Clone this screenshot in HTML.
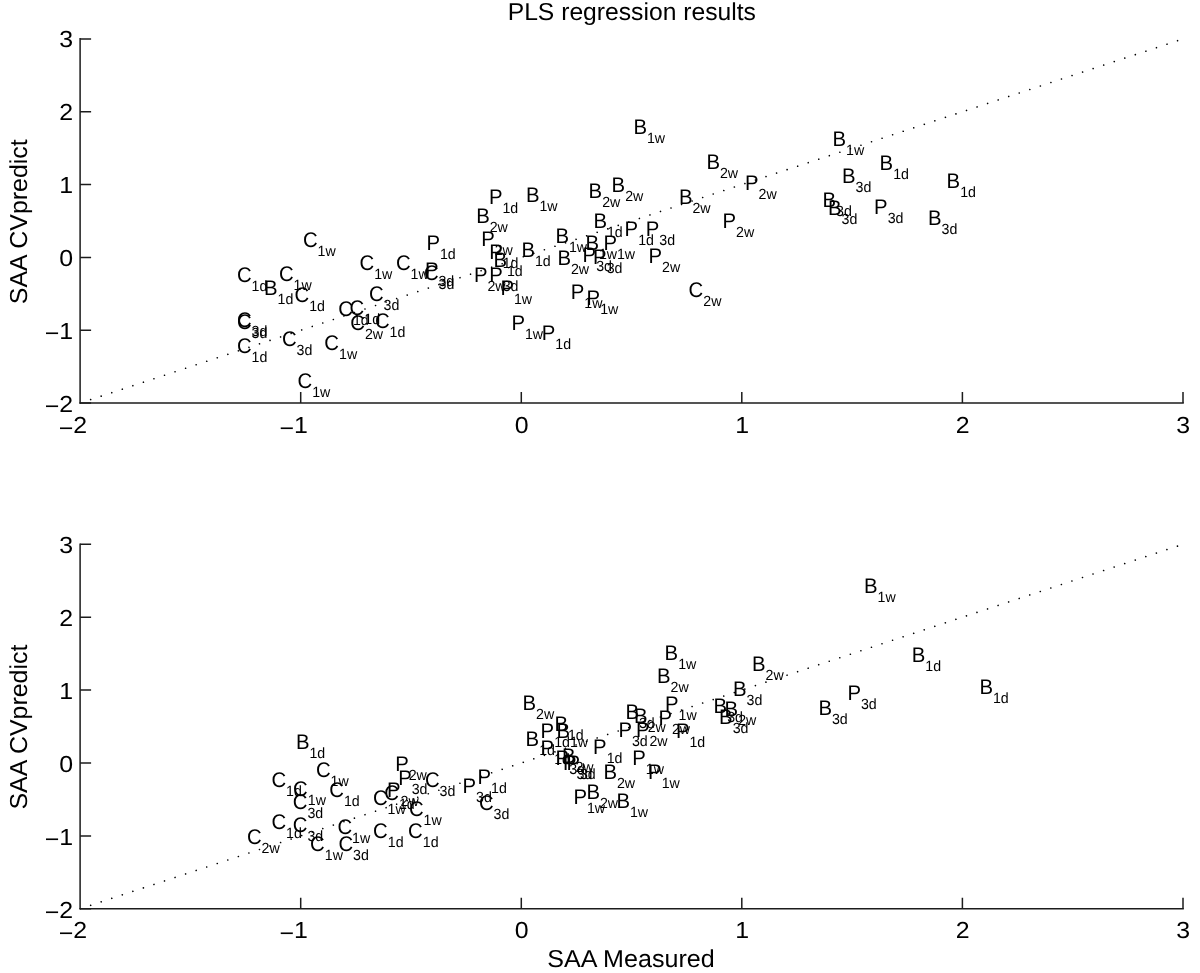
<!DOCTYPE html>
<html lang="en"><head><meta charset="utf-8"><title>PLS regression results</title>
<style>
html,body{margin:0;padding:0;background:#fff}
svg{display:block}
text{font-family:"Liberation Sans",Arial,Helvetica,sans-serif;fill:#000;text-rendering:geometricPrecision}
.lb{font-size:21.2px}
.sb{font-size:14.8px}
.tk{font-size:23.3px}
.ti{font-size:24.5px}
.ax{fill:none;stroke:#1c1c1c;stroke-width:1.5;stroke-linejoin:round}
.dot{stroke:#000;stroke-width:1.6;stroke-linecap:round;stroke-dasharray:0.01 11.103}
</style></head><body>
<svg width="1200" height="973" viewBox="0 0 1200 973">
<rect width="1200" height="973" fill="#fff"/>
<text class="ti" x="631.8" y="19.8" text-anchor="middle" textLength="248.2" lengthAdjust="spacingAndGlyphs">PLS regression results</text>
<text class="ti" x="631" y="966.9" text-anchor="middle" textLength="167.3" lengthAdjust="spacingAndGlyphs">SAA Measured</text>
<text class="ti" transform="translate(27.2 221.7) rotate(-90)" text-anchor="middle" textLength="164.9" lengthAdjust="spacingAndGlyphs">SAA CVpredict</text>
<text class="ti" transform="translate(27.2 727.1) rotate(-90)" text-anchor="middle" textLength="164.9" lengthAdjust="spacingAndGlyphs">SAA CVpredict</text>
<g id="plot1">
<line class="dot" x1="80.1" y1="403.1" x2="1183.0" y2="38.9"/>
<path class="ax" d="M80.1 38.1V403.1H1183.8"/>
<path class="ax" d="M80.1 403.1h11M300.7 403.1v-11M80.1 330.3h11M521.3 403.1v-11M80.1 257.4h11M741.8 403.1v-11M80.1 184.6h11M962.4 403.1v-11M80.1 111.7h11M1183.0 403.1v-11M80.1 38.9h11"/>
<text class="tk" transform="translate(73.2 411.6) scale(1.069 1)" text-anchor="end"><tspan dy="2.6">−</tspan><tspan dy="-2.6">2</tspan></text>
<text class="tk" transform="translate(58.8 433.0) scale(1.069 1)"><tspan dy="2.6">−</tspan><tspan dy="-2.6">2</tspan></text>
<text class="tk" transform="translate(73.2 338.8) scale(1.069 1)" text-anchor="end"><tspan dy="2.6">−</tspan><tspan dy="-2.6">1</tspan></text>
<text class="tk" transform="translate(279.4 433.0) scale(1.069 1)"><tspan dy="2.6">−</tspan><tspan dy="-2.6">1</tspan></text>
<text class="tk" transform="translate(73.2 265.9) scale(1.069 1)" text-anchor="end">0</text>
<text class="tk" transform="translate(521.6 433.0) scale(1.069 1)" text-anchor="middle">0</text>
<text class="tk" transform="translate(73.2 193.1) scale(1.069 1)" text-anchor="end">1</text>
<text class="tk" transform="translate(742.1 433.0) scale(1.069 1)" text-anchor="middle">1</text>
<text class="tk" transform="translate(73.2 120.2) scale(1.069 1)" text-anchor="end">2</text>
<text class="tk" transform="translate(962.7 433.0) scale(1.069 1)" text-anchor="middle">2</text>
<text class="tk" transform="translate(73.2 47.4) scale(1.069 1)" text-anchor="end">3</text>
<text class="tk" transform="translate(1183.3 433.0) scale(1.069 1)" text-anchor="middle">3</text>
<text class="lb" transform="translate(302.9 247) scale(0.96 1)">C</text><text class="sb" transform="translate(317.6 256) scale(0.96 1)">1w</text>
<text class="lb" transform="translate(236.9 282) scale(0.96 1)">C</text><text class="sb" transform="translate(251.6 291) scale(0.96 1)">1d</text>
<text class="lb" transform="translate(278.9 281) scale(0.96 1)">C</text><text class="sb" transform="translate(293.6 290) scale(0.96 1)">1w</text>
<text class="lb" transform="translate(294.5 302) scale(0.96 1)">C</text><text class="sb" transform="translate(309.2 311) scale(0.96 1)">1d</text>
<text class="lb" transform="translate(359.5 270) scale(0.96 1)">C</text><text class="sb" transform="translate(374.2 279) scale(0.96 1)">1w</text>
<text class="lb" transform="translate(395.9 270) scale(0.96 1)">C</text><text class="sb" transform="translate(410.6 279) scale(0.96 1)">1w</text>
<text class="lb" transform="translate(423.9 280) scale(0.96 1)">C</text><text class="sb" transform="translate(438.6 289) scale(0.96 1)">3d</text>
<text class="lb" transform="translate(368.9 301) scale(0.96 1)">C</text><text class="sb" transform="translate(383.6 310) scale(0.96 1)">3d</text>
<text class="lb" transform="translate(338.2 316) scale(0.96 1)">C</text><text class="sb" transform="translate(352.9 325) scale(0.96 1)">1d</text>
<text class="lb" transform="translate(349.6 315) scale(0.96 1)">C</text><text class="sb" transform="translate(364.3 324) scale(0.96 1)">1d</text>
<text class="lb" transform="translate(350.2 330) scale(0.96 1)">C</text><text class="sb" transform="translate(364.9 339) scale(0.96 1)">2w</text>
<text class="lb" transform="translate(374.9 328) scale(0.96 1)">C</text><text class="sb" transform="translate(389.6 337) scale(0.96 1)">1d</text>
<text class="lb" transform="translate(236.9 327) scale(0.96 1)">C</text><text class="sb" transform="translate(251.6 336) scale(0.96 1)">3d</text>
<text class="lb" transform="translate(236.9 329) scale(0.96 1)">C</text><text class="sb" transform="translate(251.6 338) scale(0.96 1)">3d</text>
<text class="lb" transform="translate(236.9 353) scale(0.96 1)">C</text><text class="sb" transform="translate(251.6 362) scale(0.96 1)">1d</text>
<text class="lb" transform="translate(281.9 346) scale(0.96 1)">C</text><text class="sb" transform="translate(296.6 355) scale(0.96 1)">3d</text>
<text class="lb" transform="translate(324.3 350) scale(0.96 1)">C</text><text class="sb" transform="translate(339.0 359) scale(0.96 1)">1w</text>
<text class="lb" transform="translate(297.5 388) scale(0.96 1)">C</text><text class="sb" transform="translate(312.2 397) scale(0.96 1)">1w</text>
<text class="lb" transform="translate(688.6 297) scale(0.96 1)">C</text><text class="sb" transform="translate(703.3 306) scale(0.96 1)">2w</text>
<text class="lb" transform="translate(264.0 295) scale(0.96 1)">B</text><text class="sb" transform="translate(277.5 304) scale(0.96 1)">1d</text>
<text class="lb" transform="translate(476.2 223) scale(0.96 1)">B</text><text class="sb" transform="translate(489.7 232) scale(0.96 1)">2w</text>
<text class="lb" transform="translate(525.9 202) scale(0.96 1)">B</text><text class="sb" transform="translate(539.4 211) scale(0.96 1)">1w</text>
<text class="lb" transform="translate(493.4 267) scale(0.96 1)">B</text><text class="sb" transform="translate(506.9 276) scale(0.96 1)">1d</text>
<text class="lb" transform="translate(521.4 257) scale(0.96 1)">B</text><text class="sb" transform="translate(534.9 266) scale(0.96 1)">1d</text>
<text class="lb" transform="translate(555.4 243) scale(0.96 1)">B</text><text class="sb" transform="translate(568.9 252) scale(0.96 1)">1w</text>
<text class="lb" transform="translate(557.4 265) scale(0.96 1)">B</text><text class="sb" transform="translate(570.9 274) scale(0.96 1)">2w</text>
<text class="lb" transform="translate(585.4 250) scale(0.96 1)">B</text><text class="sb" transform="translate(598.9 259) scale(0.96 1)">1w</text>
<text class="lb" transform="translate(588.6 198) scale(0.96 1)">B</text><text class="sb" transform="translate(602.2 207) scale(0.96 1)">2w</text>
<text class="lb" transform="translate(611.6 192) scale(0.96 1)">B</text><text class="sb" transform="translate(625.2 201) scale(0.96 1)">2w</text>
<text class="lb" transform="translate(593.4 228) scale(0.96 1)">B</text><text class="sb" transform="translate(606.9 237) scale(0.96 1)">1d</text>
<text class="lb" transform="translate(678.9 204) scale(0.96 1)">B</text><text class="sb" transform="translate(692.4 213) scale(0.96 1)">2w</text>
<text class="lb" transform="translate(633.4 134) scale(0.96 1)">B</text><text class="sb" transform="translate(646.9 143) scale(0.96 1)">1w</text>
<text class="lb" transform="translate(706.4 169) scale(0.96 1)">B</text><text class="sb" transform="translate(719.9 178) scale(0.96 1)">2w</text>
<text class="lb" transform="translate(832.6 146) scale(0.96 1)">B</text><text class="sb" transform="translate(846.1 155) scale(0.96 1)">1w</text>
<text class="lb" transform="translate(879.6 170) scale(0.96 1)">B</text><text class="sb" transform="translate(893.2 179) scale(0.96 1)">1d</text>
<text class="lb" transform="translate(842.1 183) scale(0.96 1)">B</text><text class="sb" transform="translate(855.6 192) scale(0.96 1)">3d</text>
<text class="lb" transform="translate(946.6 188) scale(0.96 1)">B</text><text class="sb" transform="translate(960.2 197) scale(0.96 1)">1d</text>
<text class="lb" transform="translate(822.6 207) scale(0.96 1)">B</text><text class="sb" transform="translate(836.1 216) scale(0.96 1)">3d</text>
<text class="lb" transform="translate(828.1 215) scale(0.96 1)">B</text><text class="sb" transform="translate(841.6 224) scale(0.96 1)">3d</text>
<text class="lb" transform="translate(928.1 225) scale(0.96 1)">B</text><text class="sb" transform="translate(941.6 234) scale(0.96 1)">3d</text>
<text class="lb" transform="translate(426.4 250) scale(0.96 1)">P</text><text class="sb" transform="translate(439.9 259) scale(0.96 1)">1d</text>
<text class="lb" transform="translate(424.9 277) scale(0.96 1)">P</text><text class="sb" transform="translate(438.4 286) scale(0.96 1)">3d</text>
<text class="lb" transform="translate(473.9 282) scale(0.96 1)">P</text><text class="sb" transform="translate(487.4 291) scale(0.96 1)">2w</text>
<text class="lb" transform="translate(489.2 282) scale(0.96 1)">P</text><text class="sb" transform="translate(502.7 291) scale(0.96 1)">3d</text>
<text class="lb" transform="translate(500.4 295) scale(0.96 1)">P</text><text class="sb" transform="translate(513.9 304) scale(0.96 1)">1w</text>
<text class="lb" transform="translate(481.2 246) scale(0.96 1)">P</text><text class="sb" transform="translate(494.7 255) scale(0.96 1)">2w</text>
<text class="lb" transform="translate(489.2 259) scale(0.96 1)">P</text><text class="sb" transform="translate(502.7 268) scale(0.96 1)">1d</text>
<text class="lb" transform="translate(488.9 204) scale(0.96 1)">P</text><text class="sb" transform="translate(502.4 213) scale(0.96 1)">1d</text>
<text class="lb" transform="translate(511.4 330) scale(0.96 1)">P</text><text class="sb" transform="translate(524.9 339) scale(0.96 1)">1w</text>
<text class="lb" transform="translate(541.8 340) scale(0.96 1)">P</text><text class="sb" transform="translate(555.3 349) scale(0.96 1)">1d</text>
<text class="lb" transform="translate(570.8 299) scale(0.96 1)">P</text><text class="sb" transform="translate(584.3 308) scale(0.96 1)">1w</text>
<text class="lb" transform="translate(586.6 305) scale(0.96 1)">P</text><text class="sb" transform="translate(600.2 314) scale(0.96 1)">1w</text>
<text class="lb" transform="translate(624.6 236) scale(0.96 1)">P</text><text class="sb" transform="translate(638.2 245) scale(0.96 1)">1d</text>
<text class="lb" transform="translate(645.8 236) scale(0.96 1)">P</text><text class="sb" transform="translate(659.3 245) scale(0.96 1)">3d</text>
<text class="lb" transform="translate(603.4 250) scale(0.96 1)">P</text><text class="sb" transform="translate(616.9 259) scale(0.96 1)">1w</text>
<text class="lb" transform="translate(582.6 262) scale(0.96 1)">P</text><text class="sb" transform="translate(596.2 271) scale(0.96 1)">3d</text>
<text class="lb" transform="translate(593.1 264) scale(0.96 1)">P</text><text class="sb" transform="translate(606.7 273) scale(0.96 1)">3d</text>
<text class="lb" transform="translate(648.6 263) scale(0.96 1)">P</text><text class="sb" transform="translate(662.1 272) scale(0.96 1)">2w</text>
<text class="lb" transform="translate(745.1 190) scale(0.96 1)">P</text><text class="sb" transform="translate(758.6 199) scale(0.96 1)">2w</text>
<text class="lb" transform="translate(722.6 228) scale(0.96 1)">P</text><text class="sb" transform="translate(736.1 237) scale(0.96 1)">2w</text>
<text class="lb" transform="translate(874.1 214) scale(0.96 1)">P</text><text class="sb" transform="translate(887.7 223) scale(0.96 1)">3d</text>
</g>
<g id="plot2">
<line class="dot" x1="80.1" y1="908.8" x2="1183.0" y2="544.3"/>
<path class="ax" d="M80.1 543.5V908.8H1183.8"/>
<path class="ax" d="M80.1 908.8h11M300.7 908.8v-11M80.1 835.9h11M521.3 908.8v-11M80.1 763.0h11M741.8 908.8v-11M80.1 690.1h11M962.4 908.8v-11M80.1 617.2h11M1183.0 908.8v-11M80.1 544.3h11"/>
<text class="tk" transform="translate(73.2 917.7) scale(1.069 1)" text-anchor="end"><tspan dy="2.6">−</tspan><tspan dy="-2.6">2</tspan></text>
<text class="tk" transform="translate(58.8 938.0) scale(1.069 1)"><tspan dy="2.6">−</tspan><tspan dy="-2.6">2</tspan></text>
<text class="tk" transform="translate(73.2 844.8) scale(1.069 1)" text-anchor="end"><tspan dy="2.6">−</tspan><tspan dy="-2.6">1</tspan></text>
<text class="tk" transform="translate(279.4 938.0) scale(1.069 1)"><tspan dy="2.6">−</tspan><tspan dy="-2.6">1</tspan></text>
<text class="tk" transform="translate(73.2 771.9) scale(1.069 1)" text-anchor="end">0</text>
<text class="tk" transform="translate(521.6 938.0) scale(1.069 1)" text-anchor="middle">0</text>
<text class="tk" transform="translate(73.2 699.0) scale(1.069 1)" text-anchor="end">1</text>
<text class="tk" transform="translate(742.1 938.0) scale(1.069 1)" text-anchor="middle">1</text>
<text class="tk" transform="translate(73.2 626.1) scale(1.069 1)" text-anchor="end">2</text>
<text class="tk" transform="translate(962.7 938.0) scale(1.069 1)" text-anchor="middle">2</text>
<text class="tk" transform="translate(73.2 553.2) scale(1.069 1)" text-anchor="end">3</text>
<text class="tk" transform="translate(1183.3 938.0) scale(1.069 1)" text-anchor="middle">3</text>
<text class="lb" transform="translate(315.9 777) scale(0.96 1)">C</text><text class="sb" transform="translate(330.6 786) scale(0.96 1)">1w</text>
<text class="lb" transform="translate(271.4 787) scale(0.96 1)">C</text><text class="sb" transform="translate(286.1 796) scale(0.96 1)">1d</text>
<text class="lb" transform="translate(293.1 796) scale(0.96 1)">C</text><text class="sb" transform="translate(307.8 805) scale(0.96 1)">1w</text>
<text class="lb" transform="translate(292.7 809) scale(0.96 1)">C</text><text class="sb" transform="translate(307.4 818) scale(0.96 1)">3d</text>
<text class="lb" transform="translate(329.2 797) scale(0.96 1)">C</text><text class="sb" transform="translate(343.9 806) scale(0.96 1)">1d</text>
<text class="lb" transform="translate(271.4 829) scale(0.96 1)">C</text><text class="sb" transform="translate(286.1 838) scale(0.96 1)">1d</text>
<text class="lb" transform="translate(292.7 832) scale(0.96 1)">C</text><text class="sb" transform="translate(307.4 841) scale(0.96 1)">3d</text>
<text class="lb" transform="translate(246.9 844) scale(0.96 1)">C</text><text class="sb" transform="translate(261.6 853) scale(0.96 1)">2w</text>
<text class="lb" transform="translate(310.1 851) scale(0.96 1)">C</text><text class="sb" transform="translate(324.8 860) scale(0.96 1)">1w</text>
<text class="lb" transform="translate(337.4 834) scale(0.96 1)">C</text><text class="sb" transform="translate(352.1 843) scale(0.96 1)">1w</text>
<text class="lb" transform="translate(338.4 851) scale(0.96 1)">C</text><text class="sb" transform="translate(353.1 860) scale(0.96 1)">3d</text>
<text class="lb" transform="translate(373.1 838) scale(0.96 1)">C</text><text class="sb" transform="translate(387.8 847) scale(0.96 1)">1d</text>
<text class="lb" transform="translate(408.1 838) scale(0.96 1)">C</text><text class="sb" transform="translate(422.8 847) scale(0.96 1)">1d</text>
<text class="lb" transform="translate(408.9 816) scale(0.96 1)">C</text><text class="sb" transform="translate(423.6 825) scale(0.96 1)">1w</text>
<text class="lb" transform="translate(372.9 805) scale(0.96 1)">C</text><text class="sb" transform="translate(387.6 814) scale(0.96 1)">1w</text>
<text class="lb" transform="translate(384.2 800) scale(0.96 1)">C</text><text class="sb" transform="translate(398.9 809) scale(0.96 1)">1d</text>
<text class="lb" transform="translate(424.9 787) scale(0.96 1)">C</text><text class="sb" transform="translate(439.6 796) scale(0.96 1)">3d</text>
<text class="lb" transform="translate(478.9 810) scale(0.96 1)">C</text><text class="sb" transform="translate(493.6 819) scale(0.96 1)">3d</text>
<text class="lb" transform="translate(295.9 749) scale(0.96 1)">B</text><text class="sb" transform="translate(309.4 758) scale(0.96 1)">1d</text>
<text class="lb" transform="translate(522.6 710) scale(0.96 1)">B</text><text class="sb" transform="translate(536.1 719) scale(0.96 1)">2w</text>
<text class="lb" transform="translate(554.4 731) scale(0.96 1)">B</text><text class="sb" transform="translate(567.9 740) scale(0.96 1)">1d</text>
<text class="lb" transform="translate(556.4 738) scale(0.96 1)">B</text><text class="sb" transform="translate(569.9 747) scale(0.96 1)">1w</text>
<text class="lb" transform="translate(525.6 746) scale(0.96 1)">B</text><text class="sb" transform="translate(539.2 755) scale(0.96 1)">1d</text>
<text class="lb" transform="translate(603.4 779) scale(0.96 1)">B</text><text class="sb" transform="translate(616.9 788) scale(0.96 1)">2w</text>
<text class="lb" transform="translate(586.4 799) scale(0.96 1)">B</text><text class="sb" transform="translate(599.9 808) scale(0.96 1)">2w</text>
<text class="lb" transform="translate(616.4 808) scale(0.96 1)">B</text><text class="sb" transform="translate(629.9 817) scale(0.96 1)">1w</text>
<text class="lb" transform="translate(664.6 660) scale(0.96 1)">B</text><text class="sb" transform="translate(678.2 669) scale(0.96 1)">1w</text>
<text class="lb" transform="translate(657.1 683) scale(0.96 1)">B</text><text class="sb" transform="translate(670.6 692) scale(0.96 1)">2w</text>
<text class="lb" transform="translate(752.1 671) scale(0.96 1)">B</text><text class="sb" transform="translate(765.6 680) scale(0.96 1)">2w</text>
<text class="lb" transform="translate(733.1 696) scale(0.96 1)">B</text><text class="sb" transform="translate(746.6 705) scale(0.96 1)">3d</text>
<text class="lb" transform="translate(713.6 713) scale(0.96 1)">B</text><text class="sb" transform="translate(727.2 722) scale(0.96 1)">3d</text>
<text class="lb" transform="translate(724.6 716) scale(0.96 1)">B</text><text class="sb" transform="translate(738.2 725) scale(0.96 1)">2w</text>
<text class="lb" transform="translate(719.1 724) scale(0.96 1)">B</text><text class="sb" transform="translate(732.7 733) scale(0.96 1)">3d</text>
<text class="lb" transform="translate(625.4 719) scale(0.96 1)">B</text><text class="sb" transform="translate(638.9 728) scale(0.96 1)">3d</text>
<text class="lb" transform="translate(634.1 723) scale(0.96 1)">B</text><text class="sb" transform="translate(647.7 732) scale(0.96 1)">2w</text>
<text class="lb" transform="translate(864.0 593) scale(0.96 1)">B</text><text class="sb" transform="translate(877.5 602) scale(0.96 1)">1w</text>
<text class="lb" transform="translate(911.8 662) scale(0.96 1)">B</text><text class="sb" transform="translate(925.3 671) scale(0.96 1)">1d</text>
<text class="lb" transform="translate(979.4 694) scale(0.96 1)">B</text><text class="sb" transform="translate(992.9 703) scale(0.96 1)">1d</text>
<text class="lb" transform="translate(818.4 715) scale(0.96 1)">B</text><text class="sb" transform="translate(831.9 724) scale(0.96 1)">3d</text>
<text class="lb" transform="translate(561.9 763) scale(0.96 1)">B</text><text class="sb" transform="translate(575.4 772) scale(0.96 1)">2w</text>
<text class="lb" transform="translate(395.2 771) scale(0.96 1)">P</text><text class="sb" transform="translate(408.7 780) scale(0.96 1)">2w</text>
<text class="lb" transform="translate(398.2 785) scale(0.96 1)">P</text><text class="sb" transform="translate(411.7 794) scale(0.96 1)">3d</text>
<text class="lb" transform="translate(387.1 797) scale(0.96 1)">P</text><text class="sb" transform="translate(400.6 806) scale(0.96 1)">2w</text>
<text class="lb" transform="translate(462.6 793) scale(0.96 1)">P</text><text class="sb" transform="translate(476.1 802) scale(0.96 1)">3d</text>
<text class="lb" transform="translate(477.6 784) scale(0.96 1)">P</text><text class="sb" transform="translate(491.1 793) scale(0.96 1)">1d</text>
<text class="lb" transform="translate(540.6 738) scale(0.96 1)">P</text><text class="sb" transform="translate(554.2 747) scale(0.96 1)">1d</text>
<text class="lb" transform="translate(540.6 755) scale(0.96 1)">P</text><text class="sb" transform="translate(554.2 764) scale(0.96 1)">1d</text>
<text class="lb" transform="translate(555.6 765) scale(0.96 1)">P</text><text class="sb" transform="translate(569.2 774) scale(0.96 1)">3d</text>
<text class="lb" transform="translate(563.0 770) scale(0.96 1)">P</text><text class="sb" transform="translate(576.5 779) scale(0.96 1)">3d</text>
<text class="lb" transform="translate(566.4 770) scale(0.96 1)">P</text><text class="sb" transform="translate(579.9 779) scale(0.96 1)">3d</text>
<text class="lb" transform="translate(593.1 754) scale(0.96 1)">P</text><text class="sb" transform="translate(606.7 763) scale(0.96 1)">1d</text>
<text class="lb" transform="translate(573.4 804) scale(0.96 1)">P</text><text class="sb" transform="translate(586.9 813) scale(0.96 1)">1w</text>
<text class="lb" transform="translate(665.1 711) scale(0.96 1)">P</text><text class="sb" transform="translate(678.6 720) scale(0.96 1)">1w</text>
<text class="lb" transform="translate(658.4 725) scale(0.96 1)">P</text><text class="sb" transform="translate(671.9 734) scale(0.96 1)">2w</text>
<text class="lb" transform="translate(675.9 738) scale(0.96 1)">P</text><text class="sb" transform="translate(689.4 747) scale(0.96 1)">1d</text>
<text class="lb" transform="translate(618.4 737) scale(0.96 1)">P</text><text class="sb" transform="translate(631.9 746) scale(0.96 1)">3d</text>
<text class="lb" transform="translate(635.9 737) scale(0.96 1)">P</text><text class="sb" transform="translate(649.4 746) scale(0.96 1)">2w</text>
<text class="lb" transform="translate(632.2 765) scale(0.96 1)">P</text><text class="sb" transform="translate(645.8 774) scale(0.96 1)">1w</text>
<text class="lb" transform="translate(648.1 779) scale(0.96 1)">P</text><text class="sb" transform="translate(661.7 788) scale(0.96 1)">1w</text>
<text class="lb" transform="translate(847.4 700) scale(0.96 1)">P</text><text class="sb" transform="translate(860.9 709) scale(0.96 1)">3d</text>
</g>
</svg></body></html>
